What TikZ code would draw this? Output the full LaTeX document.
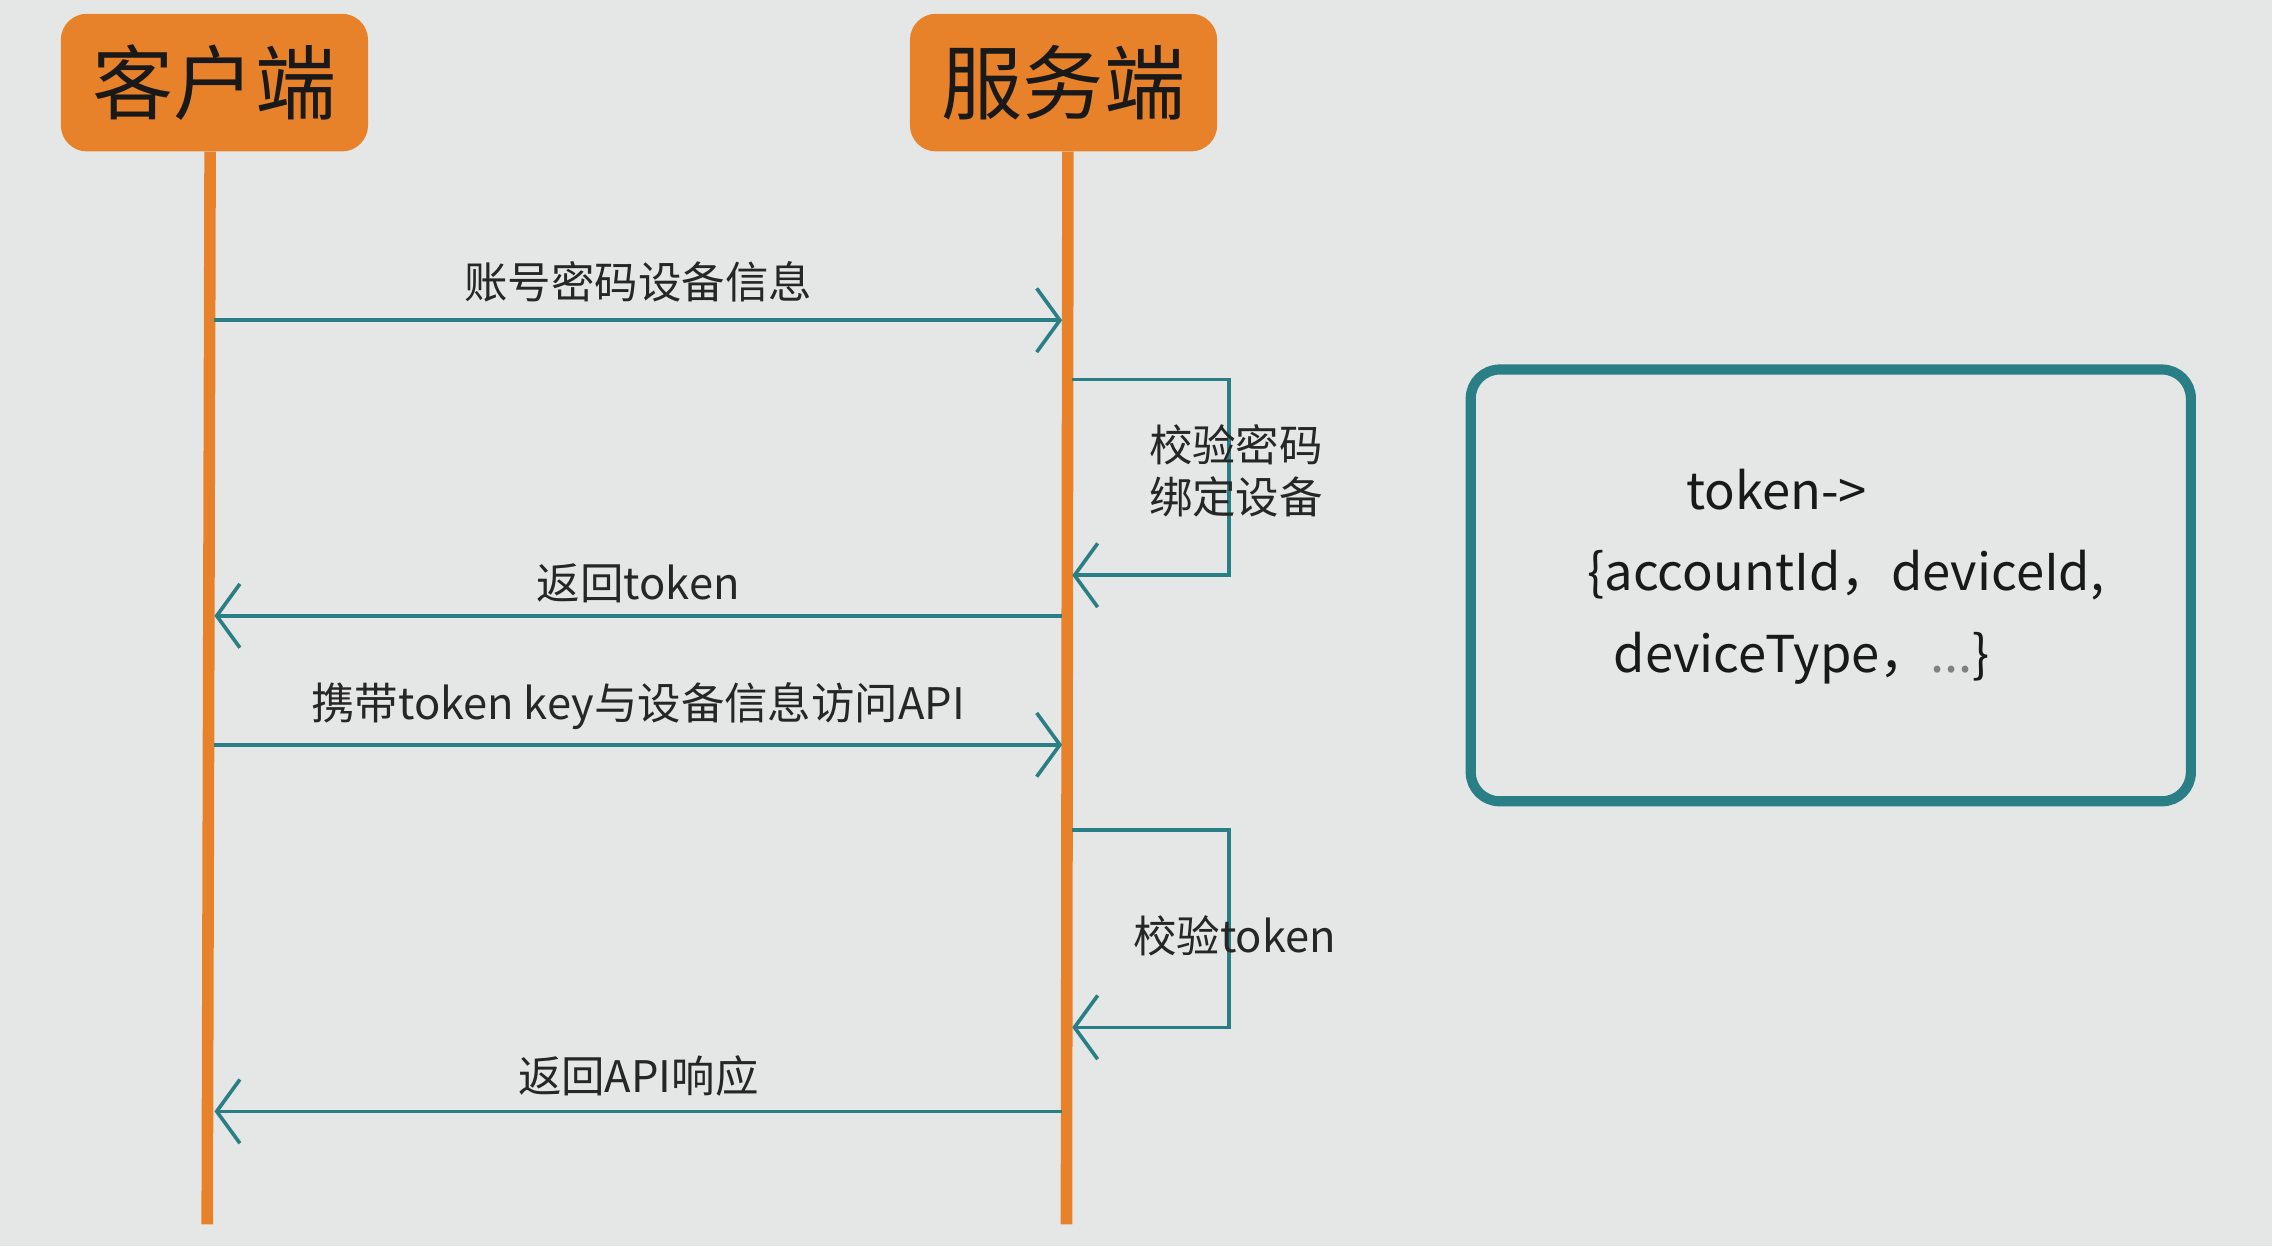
\documentclass[tikz,border=0pt]{standalone}
\usepackage{fontspec}
\setmainfont{Noto Sans CJK SC}
\usetikzlibrary{arrows.meta}
\definecolor{bg}{HTML}{E4E7E5}
\definecolor{org}{HTML}{E8822A}
\definecolor{tl}{HTML}{2A7F86}
\begin{document}
\begin{tikzpicture}[x=1pt,y=-1pt,
  head/.style={fill=org,rounded corners=18pt,minimum width=212pt,minimum height=95pt,font=\fontsize{56}{60}\selectfont,text=black!90},
  life/.style={org,line width=8pt},
  msg/.style={tl,line width=2.5pt,-{Straight Barb[length=16pt,width=44pt,line width=2.5pt]}},
  lbl/.style={font=\fontsize{30}{36}\selectfont,text=black!85}]
\fill[bg] (0,0) rectangle (1568,860);
\useasboundingbox (0,0) rectangle (1568,860);
\node[head] (c) at (148,57) {客户端};
\node[head] (s) at (734,57) {服务端};
\coordinate (ce) at (143,845);
\coordinate (se) at (736,845);
\draw[life] (c.south) ++(-3,0) coordinate (cs) -- (ce);
\draw[life] (s.south) ++(3,0) coordinate (ss) -- (se);
\coordinate (a1) at (148,221); \coordinate (b1) at (733,221);
\draw[msg] (a1) -- node[lbl,above=8pt] {账号密码设备信息} (b1);
\coordinate (l1a) at (740,262); \coordinate (l1b) at (740,397);
\draw[msg] (l1a) -- (848,262) -- (848,397) -- (l1b);
\node[lbl,align=left,font=\fontsize{30}{36}\selectfont] (t1) at (853,325) {校验密码\\绑定设备};
\coordinate (a2) at (733,425); \coordinate (b2) at (148,425);
\draw[msg] (a2) -- node[lbl,above=4pt] {返回token} (b2);
\coordinate (a3) at (148,514); \coordinate (b3) at (733,514);
\draw[msg] (a3) -- node[lbl,above=6pt] {携带token key与设备信息访问API} (b3);
\coordinate (l2a) at (740,573); \coordinate (l2b) at (740,709);
\draw[msg] (l2a) -- (848,573) -- (848,709) -- (l2b);
\node[lbl] (t2) at (852,646) {校验token};
\coordinate (a4) at (733,767); \coordinate (b4) at (148,767);
\draw[msg] (a4) -- node[lbl,above=6pt] {返回API响应} (b4);
\node[draw=tl,line width=7pt,rounded corners=20pt,minimum width=497pt,minimum height=298pt] (box) at (1263.5,404) {};
\node[font=\fontsize{35}{56}\selectfont,align=left,text=black!90] (tk) at (1274,398) {\hspace*{68pt}token->\\\{accountId，deviceId,\\\hspace*{18pt}deviceType，\textcolor{black!50}{...}\}};
\end{tikzpicture}
\end{document}
